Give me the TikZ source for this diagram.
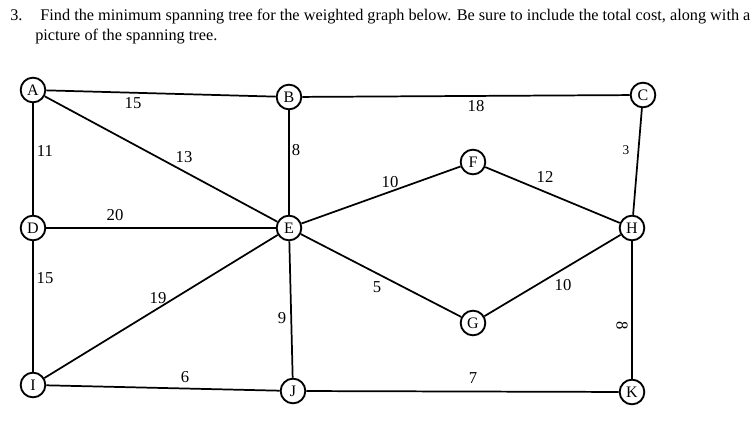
\documentclass[tikz,border=0pt]{standalone}
\usepackage{fontspec}
\setmainfont{Liberation Serif}
\begin{document}
\begin{tikzpicture}[x=0.75pt,y=-0.75pt,
  vert/.style={circle,draw,line width=1.4pt,fill=white,minimum size=18.5pt,inner sep=0pt,font=\fontsize{12}{13}\selectfont},
  edge/.style={line width=1.3pt},
  wt/.style={font=\fontsize{12.5}{14}\selectfont,inner sep=0pt}]
\useasboundingbox (0,0) rectangle (755,427);
\node[anchor=west,font=\fontsize{12.2}{14}\selectfont,inner sep=0pt] (t1) at (10,17) {3.\hspace{1.1em}Find the minimum spanning tree for the weighted graph below. Be sure to include the total cost, along with a};
\node[anchor=west,font=\fontsize{12.2}{14}\selectfont,inner sep=0pt] (t2) at (35,37) {picture of the spanning tree.};
\node[vert] (A) at (33,90) {A};
\node[vert] (B) at (289,97) {B};
\node[vert] (C) at (643,95) {C};
\node[vert] (D) at (33,228) {D};
\node[vert] (E) at (289,228) {E};
\node[vert] (F) at (473,162) {F};
\node[vert] (H) at (632,228) {H};
\node[vert] (G) at (473,323) {G};
\node[vert] (I) at (33,385) {I};
\node[vert] (J) at (293,391) {J};
\node[vert] (K) at (632,392) {K};
\draw[edge] (A)--(B); \draw[edge] (B)--(C); \draw[edge] (A)--(D);
\draw[edge] (B)--(E); \draw[edge] (C)--(H); \draw[edge] (A)--(E);
\draw[edge] (D)--(E); \draw[edge] (E)--(F); \draw[edge] (F)--(H);
\draw[edge] (E)--(G); \draw[edge] (G)--(H); \draw[edge] (D)--(I);
\draw[edge] (E)--(I); \draw[edge] (E)--(J); \draw[edge] (H)--(K);
\draw[edge] (I)--(J); \draw[edge] (J)--(K);
\node[wt] (w1) at (133,103) {15};
\node[wt] (w2) at (476,106) {18};
\node[wt] (w3) at (45,151) {11};
\node[wt] (w4) at (184,157) {13};
\node[wt] (w5) at (296,150) {8};
\node[wt,font=\fontsize{10}{12}\selectfont] (w6) at (626,150) {3};
\node[wt] (w7) at (390,182) {10};
\node[wt] (w8) at (545,177) {12};
\node[wt] (w9) at (115,215) {20};
\node[wt] (w10) at (45,278) {15};
\node[wt] (w11) at (158,298) {19};
\node[wt] (w12) at (377,287) {5};
\node[wt] (w13) at (563,285) {10};
\node[wt] (w14) at (282,318) {9};
\node[wt,rotate=-90] (w15) at (622,326) {8};
\node[wt] (w16) at (185,377) {6};
\node[wt] (w17) at (473,378) {7};
\end{tikzpicture}
\end{document}
